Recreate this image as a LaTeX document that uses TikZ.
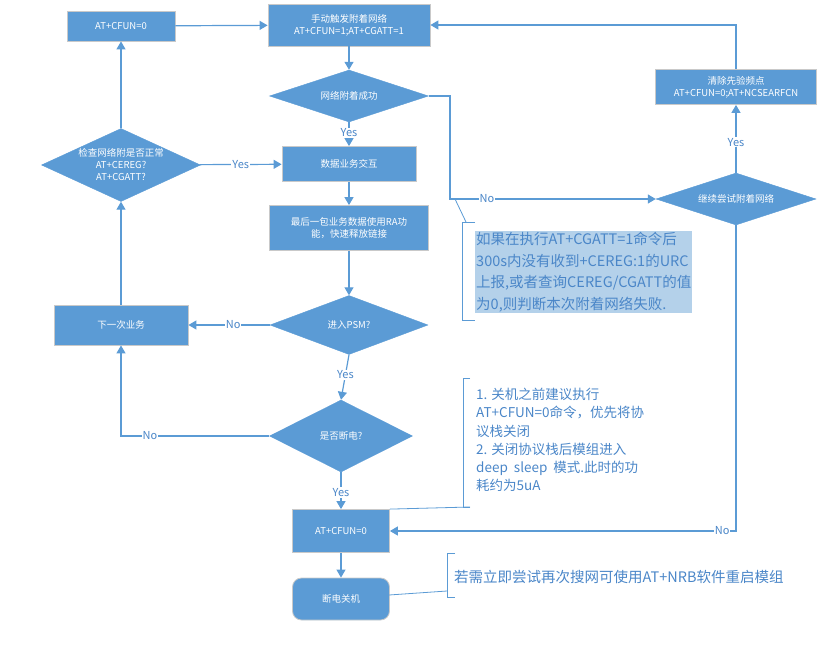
\documentclass[tikz,border=0pt]{standalone}
\usepackage{fontspec}
\setmainfont{Noto Sans CJK SC}
\usetikzlibrary{shapes.geometric,arrows.meta}
\definecolor{fc}{HTML}{5B9BD5}
\definecolor{bd}{HTML}{C9C9C9}
\definecolor{tx}{HTML}{4A86C8}
\definecolor{hl}{HTML}{B4D1EA}
\tikzset{
  box/.style={draw=bd, line width=0.8pt, fill=fc, text=white, align=center,
    font=\fontsize{9.5}{12}\selectfont, inner sep=0pt},
  dia/.style n args={3}{diamond, draw=fc, fill=fc, text=white, align=center,
    font=\fontsize{9.5}{12}\selectfont, inner sep=0pt,
    minimum width=#1pt, minimum height=#2pt, aspect=#3},
  line/.style={draw=fc, line width=1.2pt},
  arr/.style={line, -{Triangle[length=8pt,width=9pt]}},
  lab/.style={text=tx, font=\fontsize{11}{12}\selectfont, fill=white, inner sep=1pt},
  note/.style={text=tx, align=left, anchor=north west, inner sep=1pt},
  brk/.style={draw=fc, line width=0.8pt}
}
\begin{document}
\begin{tikzpicture}[x=1pt,y=-1pt]
\useasboundingbox (0,0) rectangle (839,653);
% nodes
\node[box, minimum width=162pt, minimum height=42pt] (start) at (349,25) {手动触发附着网络\\AT+CFUN=1;AT+CGATT=1};
\node[box, minimum width=108pt, minimum height=30pt] (cfa) at (121,26) {AT+CFUN=0};
\node[dia={159}{52}{3.06}] (ok) at (349,96) {网络附着成功};
\node[box, minimum width=134pt, minimum height=35pt] (data) at (349,164) {数据业务交互};
\node[dia={159}{73}{2.18}] (chk) at (121,165) {检查网络附是否正常\\AT+CEREG?\\AT+CGATT?};
\node[box, minimum width=159pt, minimum height=45pt] (last) at (349,228) {最后一包业务数据使用RA功\\能，快速释放链接};
\node[dia={158}{59}{2.68}] (psm) at (349,325) {进入PSM?};
\node[box, minimum width=134pt, minimum height=40pt] (next) at (121,325) {下一次业务};
\node[dia={143}{72}{1.99}] (pw) at (341,436) {是否断电?};
\node[box, minimum width=97pt, minimum height=43pt] (cfb) at (341,531) {AT+CFUN=0};
\node[box, rounded corners=9pt, minimum width=97pt, minimum height=42pt] (off) at (341,599) {断电关机};
\node[box, minimum width=161pt, minimum height=35pt] (clr) at (736,87) {清除先验频点\\AT+CFUN=0;AT+NCSEARFCN};
\node[dia={160}{52}{3.08}] (retry) at (736,199) {继续尝试附着网络};
\coordinate (c1) at (450,96);
\coordinate (c2) at (450,199);
\coordinate (c3) at (736,531);
\coordinate (c4) at (736,25);
\coordinate (c5) at (121,436);
% connectors
\draw[arr] (cfa) -- (start);
\draw[arr] (start) -- (ok);
\draw[arr] (ok) -- node[lab, pos=0.45] {Yes} (data);
\draw[arr] (chk) -- node[lab, pos=0.5] {Yes} (data);
\draw[arr] (chk) -- (cfa);
\draw[arr] (data) -- (last);
\draw[arr] (last) -- (psm);
\draw[arr] (psm) -- node[lab, pos=0.45] {No} (next);
\draw[arr] (next) -- (chk);
\draw[arr] (psm.south) -- node[lab, pos=0.45] {Yes} (pw.north);
\draw[arr] (pw) -- (c5) -- (next);
\node[lab] (nolab) at (150,436) {No};
\draw[arr] (pw) -- node[lab, pos=0.55] {Yes} (cfb);
\draw[arr] (cfb) -- (off);
\draw[arr] (ok) -- (c1) -- (c2) -- node[lab, pos=0.18] {No} (retry);
\draw[arr] (retry) -- node[lab, pos=0.45] {Yes} (clr);
\draw[arr] (clr) -- (c4) -- (start);
\draw[arr] (retry) -- (c3) -- node[lab, pos=0.04] {No} (cfb);
% annotations
\coordinate (b1) at (466,222);
\draw[brk] (455,199) -- (b1);
\draw[brk] (475,222) -- (462,222) -- (462,320) -- (475,320);
\node[note, fill=hl, font=\fontsize{14.5}{21.5}\selectfont] (n1) at (475,231)
  {如果在执行AT+CGATT=1命令后\\300s内没有收到+CEREG:1的URC\\上报,或者查询CEREG/CGATT的值\\为0,则判断本次附着网络失败.};
\draw[brk] (cfb.north east) -- (470,507);
\draw[brk] (470,378) -- (463,378) -- (463,507) -- (470,507);
\node[note, font=\fontsize{13.5}{18.2}\selectfont] (n2) at (475,387)
  {1. 关机之前建议执行\\AT+CFUN=0命令，优先将协\\议栈关闭\\2. 关闭协议栈后模组进入\\deep\ \ sleep\ \ 模式.此时的功\\耗约为5uA};
\draw[brk] (389,595) -- (447,591);
\draw[brk] (455,553) -- (447,553) -- (447,597) -- (455,597);
\node[note, anchor=west, font=\fontsize{14.5}{16}\selectfont] (n3) at (453,577)
  {若需立即尝试再次搜网可使用AT+NRB软件重启模组};
\end{tikzpicture}
\end{document}
